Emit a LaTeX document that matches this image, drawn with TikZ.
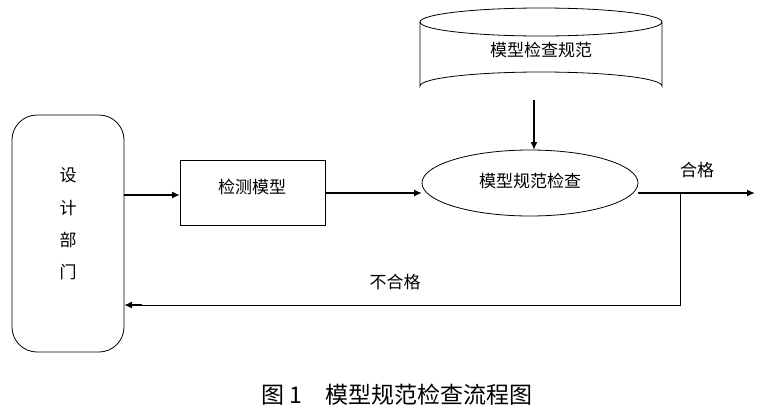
\documentclass[tikz,border=0pt]{standalone}
\usepackage{fontspec}
\setmainfont{Noto Sans CJK SC}
\usetikzlibrary{arrows.meta}
\begin{document}
\begin{tikzpicture}[x=1pt,y=-1pt,
  box/.style={draw,line width=0.8pt},
  arr/.style={line width=1.6pt,-{Latex[length=8pt,width=7pt]}},
  lbl/.style={font=\fontsize{17}{17}\selectfont}]
\useasboundingbox[fill=white] (0,0) rectangle (766,418);
% cylinder
\draw[box] (420,22) -- (420,86) arc[start angle=180,end angle=360,x radius=121,y radius=14] -- (662,22);
\draw[box] (541,22) ellipse[x radius=121,y radius=14];
\node[lbl] (spec) at (541,50) {模型检查规范};
% ellipse
\draw[box] (530,183) ellipse[x radius=108,y radius=33];
\node[lbl] (chk) at (530,181) {模型规范检查};
\coordinate (chkl) at (422,193);
\coordinate (chkr) at (638,193);
% design dept
\draw[box,rounded corners=25pt] (12,115) rectangle (124,352);
\node[lbl] (d1) at (68,175) {设};
\node[lbl] (d2) at (68,208) {计};
\node[lbl] (d3) at (68,240) {部};
\node[lbl] (d4) at (68,272) {门};
% detect box
\draw[box] (180,160) rectangle (325,225);
\node[lbl] (det) at (252,187) {检测模型};
% arrows
\draw[arr] (534,100) -- (534,150);
\draw[arr] (124,195) -- (180,195);
\draw[arr] (325,193) -- (chkl);
\draw[arr] (chkr) -- (755,193);
\node[lbl] (ok) at (697,170) {合格};
\draw[line width=0.8pt] (680,193) -- (680,305) -- (140,305);
\draw[arr] (142,305) -- (124,305);
\node[lbl] (nok) at (395,282) {不合格};
\node[font=\fontsize{23}{23}\selectfont] (cap) at (397,395) {图 1\quad 模型规范检查流程图};
\end{tikzpicture}
\end{document}
